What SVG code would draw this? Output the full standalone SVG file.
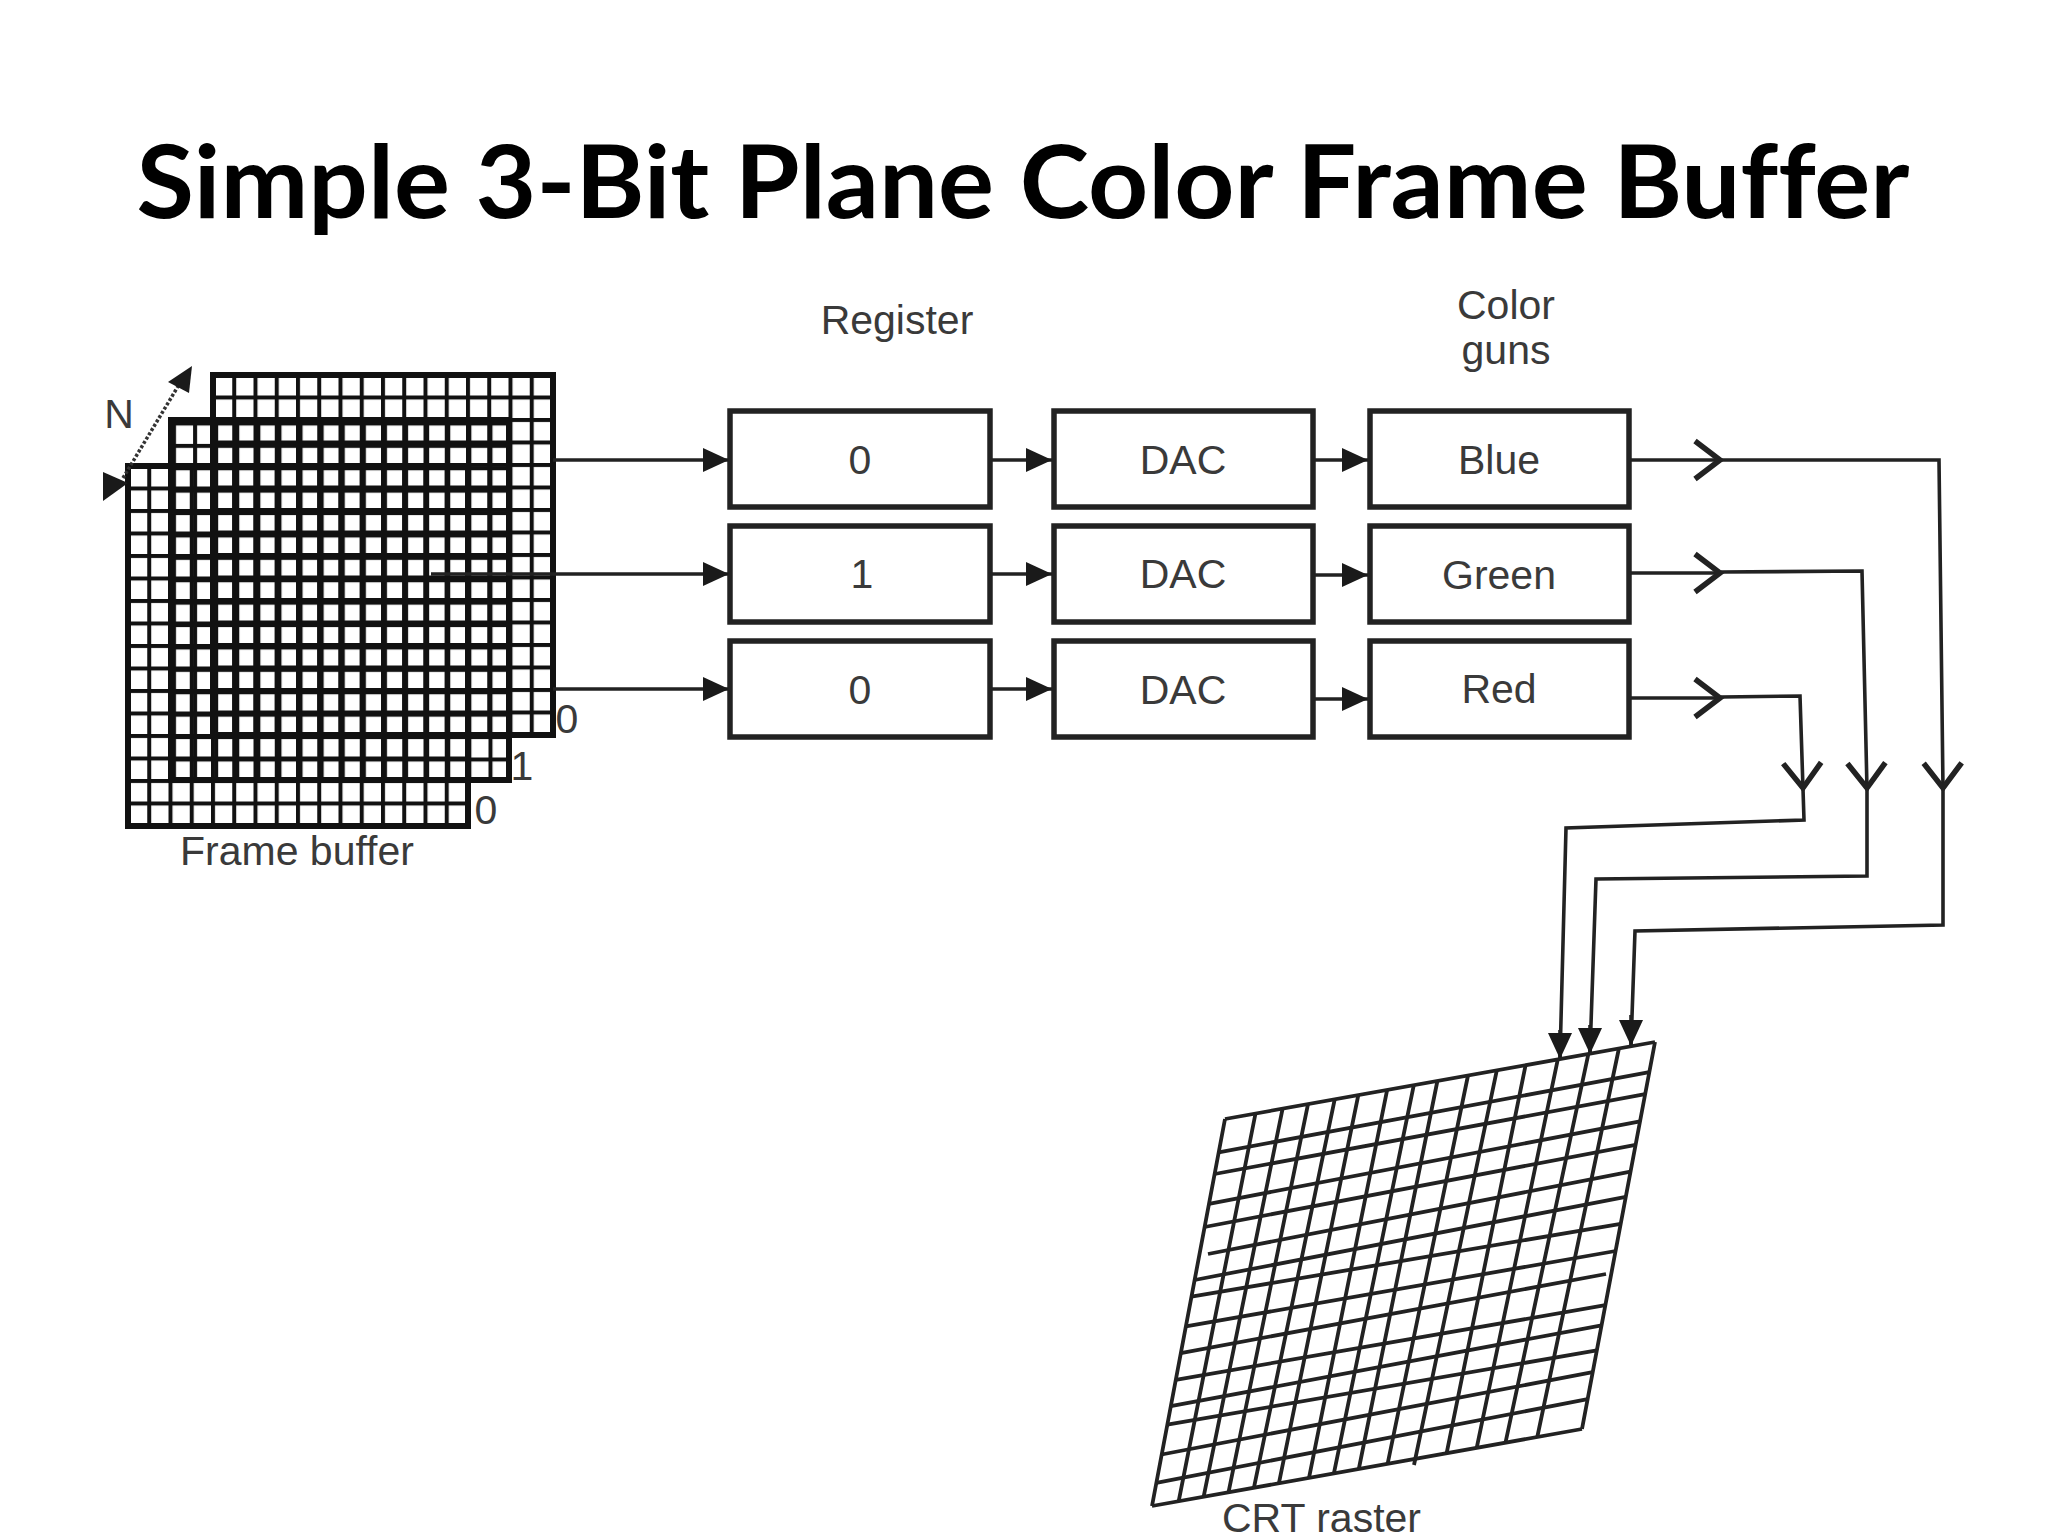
<svg xmlns="http://www.w3.org/2000/svg" width="2048" height="1536" viewBox="0 0 2048 1536">
<style>
.lbl{font-family:"Liberation Sans",Arial,sans-serif;font-size:41px;fill:#3a3a3a}
.mid{text-anchor:middle}
.box{fill:#fff;stroke:#222;stroke-width:5.5}
.plane{stroke:#111;stroke-width:6}
.wire{fill:none;stroke:#222;stroke-width:3.6}
.arr{marker-end:url(#tri)}
.chev{marker-end:url(#chevron)}
.mesh{fill:none;stroke:#222;stroke-width:3.8}
</style>
<defs>
<pattern id="cells-back" patternUnits="userSpaceOnUse" width="21.25" height="22.5" patternTransform="translate(-2,-2)">
<rect width="4" height="22.5" fill="#111"/><rect width="21.25" height="4" fill="#111"/>
</pattern>
<pattern id="cells-middle" patternUnits="userSpaceOnUse" width="21.1" height="22.4" patternTransform="translate(1,1.5)">
<rect width="4" height="22.4" fill="#111"/><rect width="21.1" height="4" fill="#111"/>
</pattern>
<pattern id="cells-front" patternUnits="userSpaceOnUse" width="21.25" height="22.5" patternTransform="translate(-2,-2)">
<rect width="4" height="22.5" fill="#111"/><rect width="21.25" height="4" fill="#111"/>
</pattern>
<marker id="tri" markerUnits="userSpaceOnUse" markerWidth="26" markerHeight="26" refX="26" refY="13" orient="auto"><path d="M0 1 L26 13 L0 25 Z" fill="#1a1a1a"/></marker>
<marker id="chevron" markerUnits="userSpaceOnUse" markerWidth="34" markerHeight="44" refX="30" refY="22" orient="auto"><path d="M4 3 L29 22 L4 41" fill="none" stroke="#222" stroke-width="5.5"/></marker>
</defs>
<rect width="2048" height="1536" fill="#fff"/>
<text id="title" x="1023" y="218" text-anchor="middle" font-family="Lato,Carlito,sans-serif" font-weight="700" font-size="102" fill="#000" textLength="1773" lengthAdjust="spacingAndGlyphs" style="font-variant-ligatures:none">Simple 3-Bit Plane Color Frame Buffer</text>

<g id="frame-buffer">
<g id="plane-back" transform="translate(213,375)"><rect class="plane" width="340" height="360" fill="url(#cells-back)"/></g>
<g id="plane-middle" transform="translate(171,420)"><rect class="plane" width="338" height="360" fill="url(#cells-middle)"/></g>
<g id="plane-front" transform="translate(128,466)"><rect class="plane" width="340" height="360" fill="url(#cells-front)"/></g>
<text class="lbl" x="567" y="733" text-anchor="middle">0</text>
<text class="lbl" x="522" y="780" text-anchor="middle">1</text>
<text class="lbl" x="486" y="824" text-anchor="middle">0</text>
<text class="lbl" x="180" y="865">Frame buffer</text>
</g>
<g id="depth-n">
<path d="M123 478 L183 378" fill="none" stroke="#333" stroke-width="3.5" stroke-dasharray="3 2"/>
<path d="M103 472 L128 483 L103 501 Z" fill="#1a1a1a"/>
<path d="M168 382 L192 366 L189 393 Z" fill="#1a1a1a"/>
<text class="lbl" x="119" y="428" text-anchor="middle">N</text>
</g>

<text class="lbl mid" x="897" y="334">Register</text>
<text class="lbl mid" x="1506" y="319">Color</text>
<text class="lbl mid" x="1506" y="364">guns</text>

<g id="register-0"><rect class="box" x="730" y="411" width="260" height="96"/><text class="lbl mid" x="860" y="474">0</text></g>
<g id="register-1"><rect class="box" x="730" y="526" width="260" height="96"/><text class="lbl mid" x="862" y="588">1</text></g>
<g id="register-2"><rect class="box" x="730" y="641" width="260" height="96"/><text class="lbl mid" x="860" y="704">0</text></g>
<g id="dac-0"><rect class="box" x="1054" y="411" width="259" height="96"/><text class="lbl mid" x="1183" y="474">DAC</text></g>
<g id="dac-1"><rect class="box" x="1054" y="526" width="259" height="96"/><text class="lbl mid" x="1183" y="588">DAC</text></g>
<g id="dac-2"><rect class="box" x="1054" y="641" width="259" height="96"/><text class="lbl mid" x="1183" y="704">DAC</text></g>
<g id="gun-blue"><rect class="box" x="1370" y="411" width="259" height="96"/><text class="lbl mid" x="1499" y="474">Blue</text></g>
<g id="gun-green"><rect class="box" x="1370" y="526" width="259" height="96"/><text class="lbl mid" x="1499" y="589">Green</text></g>
<g id="gun-red"><rect class="box" x="1370" y="641" width="259" height="96"/><text class="lbl mid" x="1499" y="703">Red</text></g>

<g id="connectors" class="wire">
<path class="wire arr" d="M553 460 H729"/>
<path class="wire arr" d="M431 574 H729"/>
<path class="wire arr" d="M553 689 H729"/>
<path class="wire arr" d="M990 460 H1052"/>
<path class="wire arr" d="M990 574 H1052"/>
<path class="wire arr" d="M990 689 H1052"/>
<path class="wire arr" d="M1313 460 H1368"/>
<path class="wire arr" d="M1313 575 H1368"/>
<path class="wire arr" d="M1313 699 H1368"/>
<path class="wire chev" d="M1630 460 H1721"/>
<path class="wire chev" d="M1721 460 L1939 460 L1943 789"/>
<path class="wire" d="M1943 789 L1943 925 L1635 931 L1631 1045"/>
<path class="wire chev" d="M1630 573 H1721"/>
<path class="wire chev" d="M1721 572 L1862 571 L1867 789"/>
<path class="wire" d="M1867 789 L1867 876 L1596 879 L1590 1053"/>
<path class="wire chev" d="M1630 698 H1721"/>
<path class="wire chev" d="M1721 697 L1800 696 L1803 789"/>
<path class="wire" d="M1803 789 L1804 820 L1566 828 L1560 1058"/>
<path class="wire arr" d="M1631 1015 V1046"/>
<path class="wire arr" d="M1590 1025 V1054"/>
<path class="wire arr" d="M1560 1030 V1059"/>
</g>

<g id="crt-raster">
<path class="mesh" d="M1225 1119 L1152 1506 M1255.5 1113.5 L1178.7 1501.2 M1282.6 1108.7 L1203.6 1496.8 M1308 1104.1 L1228.5 1492.3 M1334.7 1099.4 L1253.9 1487.8 M1358.3 1095.1 L1278.9 1483.3 M1387.1 1090 L1309 1477.9 M1413.8 1085.2 L1333.9 1473.4 M1437.4 1081 L1358.8 1469 M1468 1075.5 L1387.6 1463.8 M1496.8 1070.3 L1414 1465 M1525.6 1065.2 L1446.6 1453.3 M1557.8 1059.4 L1476.7 1447.9 M1588.4 1053.9 L1505.5 1442.7 M1618.9 1048.5 L1537.3 1437 M1655 1042 L1582 1429"/>
<path class="mesh" d="M1225 1119 L1655 1042 M1218.7 1152.3 L1649.3 1072.2 M1214.6 1174 L1645.1 1094.2 M1209 1203.8 L1640 1121.3 M1204.6 1227 L1635.6 1144.9 M1208 1254 L1630.5 1171.6 M1194.6 1280 L1625.8 1196.8 M1191.5 1296.6 L1620.7 1223.9 M1185.9 1326.4 L1615.6 1251 M1180.8 1353.1 L1606 1274 M1175.8 1379.8 L1605.4 1305.2 M1170.8 1406.2 L1601.6 1325.3 M1167.3 1424.7 L1596.8 1350.4 M1161.7 1454.5 L1592.7 1372.1 M1156.4 1482.8 L1587.6 1399.2 M1152 1506 L1582 1429"/>
<text class="lbl" x="1222" y="1532">CRT raster</text>
</g>
</svg>
